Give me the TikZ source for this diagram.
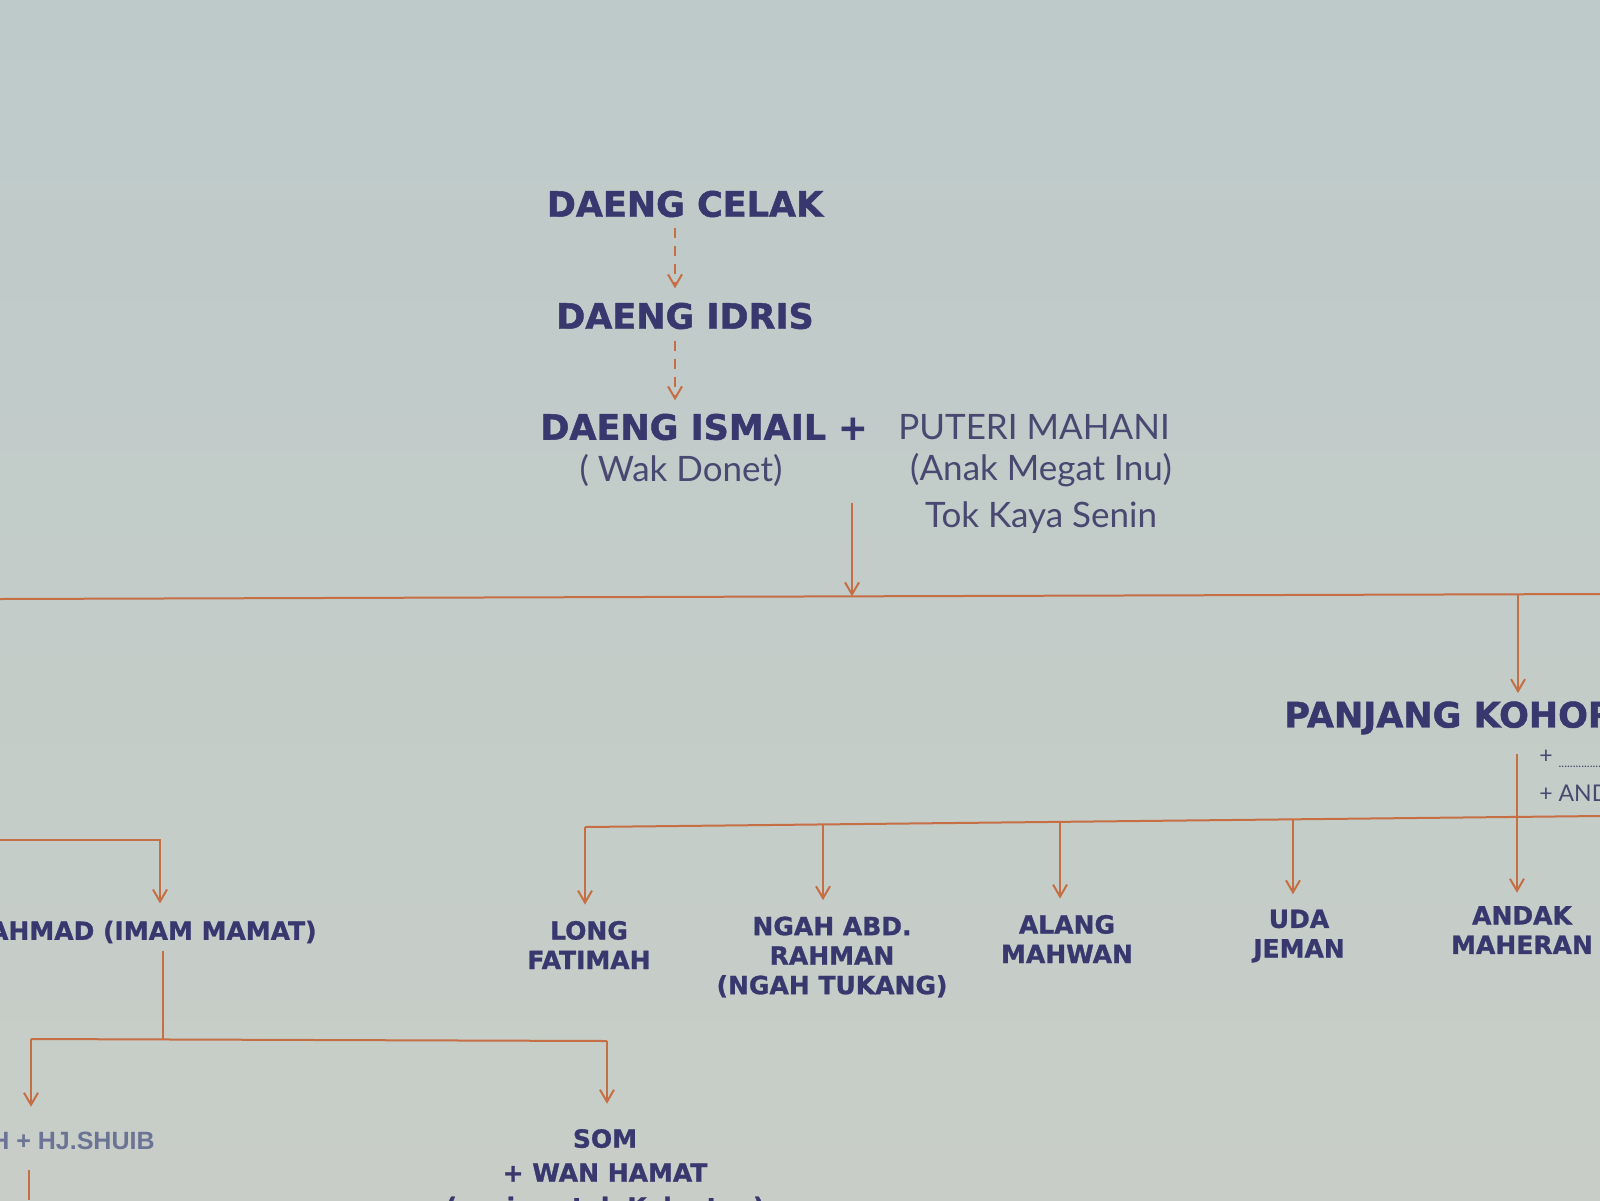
\documentclass[tikz,border=0pt]{standalone}
\usepackage{fontspec}
\setmainfont{DejaVu Sans}
\newfontfamily\namefont{DejaVu Sans}[BoldFeatures={FakeBold=1.4}]
\newfontfamily\kidfont{DejaVu Sans}[BoldFeatures={FakeBold=1.1}]
\newfontfamily\lightfont{Lato}
\newfontfamily\liberfont{Liberation Sans}
\usetikzlibrary{arrows.meta,calc}

\definecolor{papertop}{RGB}{190,202,202}
\definecolor{paperbot}{RGB}{200,206,199}
\definecolor{ink}{RGB}{56,56,110}
\definecolor{inklight}{RGB}{72,72,112}
\definecolor{inkfade}{RGB}{108,116,150}
\definecolor{wire}{RGB}{198,110,68}

\tikzset{
  bigname/.style={font=\namefont\bfseries\fontsize{17.5}{20}\selectfont, text=ink, inner sep=0pt},
  kidname/.style={font=\kidfont\bfseries\fontsize{12.5}{14.75}\selectfont, text=ink, inner sep=0pt, align=center},
  somname/.style={font=\kidfont\bfseries\fontsize{12.5}{17}\selectfont, text=ink, inner sep=0pt, align=center},
  fadename/.style={font=\liberfont\bfseries\fontsize{12.5}{14}\selectfont, text=inkfade, inner sep=0pt},
  softtext/.style={font=\lightfont\fontsize{17.5}{20}\selectfont, text=inklight, inner sep=0pt},
  smallsoft/.style={font=\lightfont\fontsize{11.5}{13}\selectfont, text=inklight, inner sep=0pt},
  wireline/.style={draw=wire, line width=1pt},
  wirearrow/.style={wireline, -{Straight Barb[length=6pt,width=7pt]}},
  dasharrow/.style={wirearrow, dash pattern=on 5pt off 4pt},
}

\begin{document}
\begin{tikzpicture}[x=0.5pt,y=-0.5pt]
\useasboundingbox (0,0) rectangle (1600,1200);
\clip (0,0) rectangle (1600,1200);
\shade[top color=papertop, bottom color=paperbot] (0,0) rectangle (1600,1200);

% ancestors
\node[bigname] (celak) at (685,204) {DAENG CELAK};
\node[bigname] (idris) at (685,316) {DAENG IDRIS};
\node[bigname] (ismail) at (704,427) {DAENG ISMAIL +};
\node[softtext] (wak) at (681,470) {( Wak Donet)};
\node[softtext] (puteri) at (1034,427) {PUTERI MAHANI};
\node[softtext] (anak) at (1041,470) {(Anak Megat Inu)};
\node[softtext] (tok) at (1041,518) {Tok Kaya Senin};

\draw[dasharrow, shorten <=5pt, shorten >=7pt] ([xshift=-5pt]celak.south) -- ([xshift=-5pt]idris.north);
\draw[dasharrow, shorten <=5.5pt, shorten >=6.5pt] ([xshift=-5pt]idris.south) -- ([xshift=-5pt]idris.south |- ismail.north);

% sibling line
\coordinate (sibL) at (0,599);
\coordinate (sibR) at (1600,594);
\coordinate (sibM) at ($(sibL)!0.5325!(sibR)$);
\coordinate (sibP) at ($(sibL)!0.94875!(sibR)$);
\draw[wireline] (sibL) -- (sibR);
\draw[wirearrow, shorten <=8pt] (sibM |- wak.south) -- (sibM);

% Panjang Kohor branch
\node[bigname, anchor=west] (panjang) at (1284,718) {PANJANG KOHOR};
\node[smallsoft, anchor=west] (wife1) at (1539,759) {+ \raisebox{-2pt}{\fontsize{6}{6}\selectfont ................}};
\node[smallsoft, anchor=west] (wife2) at (1539,793) {+ AND};
\draw[wirearrow, shorten >=4pt] (sibP) -- (sibP |- panjang.north);

% children of Panjang Kohor
\node[kidname] (long) at (589,945) {LONG\\FATIMAH};
\node[kidname] (ngah) at (832,957) {NGAH ABD.\\RAHMAN\\(NGAH TUKANG)};
\node[kidname] (alang) at (1067,939) {ALANG\\MAHWAN};
\node[kidname] (uda) at (1299,936) {UDA\\JEMAN};
\node[kidname] (andak) at (1522,930) {ANDAK\\MAHERAN};

\coordinate (kidL) at (585,827);
\coordinate (kidR) at (1600,816);
\coordinate (k2) at ($(kidL)!0.2345!(kidR)$);
\coordinate (k3) at ($(kidL)!0.468!(kidR)$);
\coordinate (k4) at ($(kidL)!0.6975!(kidR)$);
\coordinate (k5) at ($(kidL)!0.9182!(kidR)$);
\draw[wireline] (kidL) -- (kidR);
\draw[wirearrow, shorten >=8pt] (kidL) -- (kidL |- long.north);
\draw[wirearrow, shorten >=8pt] (k2) -- (k2 |- ngah.north);
\draw[wirearrow, shorten >=8pt] (k3) -- (k3 |- alang.north);
\draw[wirearrow, shorten >=7.5pt] (k4) -- (k4 |- uda.north);
\draw[wirearrow, shorten <=9.5pt, shorten >=6.5pt] (k5 |- panjang.south) -- (k5 |- andak.north);

% Ahmad branch (left)
\node[kidname, anchor=east] (ahmad) at (317,932) {AHMAD (IMAM MAMAT)};
\coordinate (ahL) at (0,840);
\coordinate (ahx) at (160,0);
\draw[wirearrow, shorten >=8.5pt] (ahL) -| (ahx |- ahmad.north);

\coordinate (gL) at (31,1039);
\coordinate (gR) at (607,1041);
\coordinate (gM) at ($(gL)!0.229!(gR)$);
\draw[wireline, shorten <=3.5pt] (gM |- ahmad.south) -- (gM);
\draw[wireline] (gL) -- (gR);

\node[fadename, anchor=east] (shuib) at (155,1141) {H + HJ.SHUIB};
\node[somname] (som) at (605,1175) {SOM\\+ WAN HAMAT\\(pasir puteh Kelantan)};
\draw[wirearrow, shorten >=12.5pt] (gL) -- (gL |- shuib.north);
\draw[wirearrow, shorten >=12.5pt] (gR) -- (gR |- som.north);

\coordinate (shB) at (29,1200);
\draw[wireline, shorten <=10pt] (shB |- shuib.south) -- (shB);
\end{tikzpicture}
\end{document}
